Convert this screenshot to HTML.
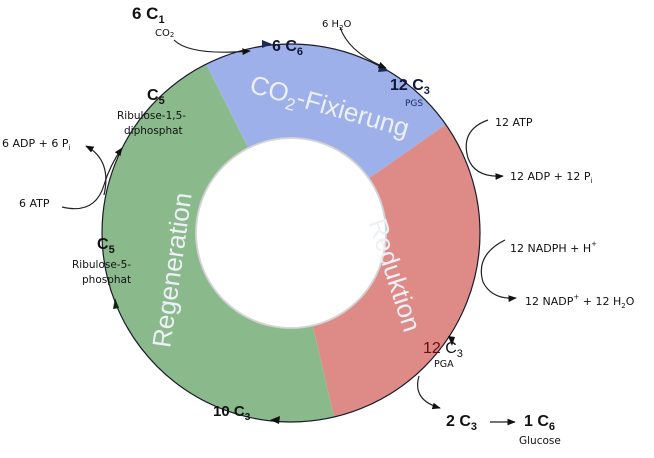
<!DOCTYPE html>
<html><head><meta charset="utf-8"><style>
html,body{margin:0;padding:0;background:#fff;}
svg{display:block;font-family:"Liberation Sans","DejaVu Sans",sans-serif;}
.s{font-family:"DejaVu Sans","Liberation Sans",sans-serif;}
</style></head><body>
<svg width="654" height="458" viewBox="0 0 654 458" xmlns="http://www.w3.org/2000/svg">
<defs>
<marker id="ah" viewBox="0 0 10 10" refX="9" refY="5" markerWidth="7" markerHeight="7" orient="auto"><path d="M0,1 L10,5 L0,9 z" fill="#111"/></marker>
<radialGradient id="ig" cx="0.5" cy="0.5" r="0.5"><stop offset="0.93" stop-color="#fff"/><stop offset="1" stop-color="#ccc"/></radialGradient>
</defs>
<path d="M206.1,64.2 A189,189 0 0 1 445.8,124.5 L368.8,178.5 A95,95 0 0 0 248.3,148.2 Z" fill="#9db0e9"/>
<path d="M445.8,124.5 A189,189 0 0 1 334.1,417.1 L312.7,325.5 A95,95 0 0 0 368.8,178.5 Z" fill="#de8a87"/>
<path d="M334.1,417.1 A189,189 0 0 1 206.1,64.2 L248.3,148.2 A95,95 0 0 0 312.7,325.5 Z" fill="#8aba8c"/>
<circle cx="291" cy="233" r="96" fill="url(#ig)"/>
<circle cx="291" cy="233" r="94" fill="#fff"/>
<circle cx="291" cy="233" r="189" fill="none" stroke="#1a1a2a" stroke-width="1.2"/>
<path d="M262,40 L272,44 L262,48 z" fill="#1a2a5a"/>
<path d="M380,64 L389,71 L378,72 z" fill="#1a2a5a"/>
<path d="M455,337 L452,346 L448,336 z" fill="#111"/>
<path d="M280,416 L270,420 L279,424 z" fill="#111"/>
<path d="M113,309 L115,298 L119,308 z" fill="#0a2a0a"/>
<g fill="#eef0f8" font-size="26">
<text x="330" y="115" text-anchor="middle" transform="rotate(16 330 105)">CO<tspan font-size="17" dy="6">2</tspan><tspan dy="-6">-Fixierung</tspan></text>
<text x="395" y="284" text-anchor="middle" transform="rotate(72 395 275)">Reduktion</text>
<text x="172" y="279" text-anchor="middle" transform="rotate(-82 172 270)">Regeneration</text>
</g>
<g fill="none" stroke="#222" stroke-width="1.2" marker-end="url(#ah)">
<path d="M174,40 Q190,56 250,51"/>
<path d="M340,27 Q348,52 386,68"/>
<path d="M488,120 Q460,130 468,158 Q475,178 503,176"/>
<path d="M505,240 Q475,255 483,282 Q492,300 516,298"/>
<path d="M419,376 Q412,400 440,408"/>
<path d="M490,422 L515,422"/>
<path d="M62,207 Q95,215 104,185 Q110,165 122,148"/>
<path d="M104,195 Q112,160 86,146"/>
</g>
<g fill="#111">
<text x="132" y="19" font-size="17" font-weight="bold">6 C<tspan font-size="11" dy="4">1</tspan></text>
<text class="s" x="155" y="36" font-size="10">CO<tspan font-size="7" dy="1">2</tspan></text>
<text x="272" y="51" font-size="16" font-weight="bold" fill="#10183a">6 C<tspan font-size="11" dy="4">6</tspan></text>
<text class="s" x="322" y="27" font-size="10">6 H<tspan font-size="7" dy="3">2</tspan><tspan dy="-3">O</tspan></text>
<text x="390" y="90" font-size="16" font-weight="bold" fill="#10183a">12 C<tspan font-size="11" dy="4">3</tspan></text>
<text class="s" x="405" y="106" font-size="9" fill="#1a2a6a">PGS</text>
<text class="s" x="495" y="126" font-size="11">12 ATP</text>
<text class="s" x="510" y="180" font-size="11">12 ADP + 12 P<tspan font-size="7" dy="3">i</tspan></text>
<text class="s" x="510" y="252" font-size="11">12 NADPH + H<tspan font-size="7" dy="-6">+</tspan></text>
<text class="s" x="525" y="305" font-size="11">12 NADP<tspan font-size="7" dy="-6">+</tspan><tspan dy="6"> + 12 H</tspan><tspan font-size="7" dy="3">2</tspan><tspan dy="-3">O</tspan></text>
<text x="423" y="353" font-size="16"><tspan fill="#6a0a0a">12</tspan> C<tspan font-size="11" dy="4">3</tspan></text>
<text class="s" x="434" y="367" font-size="9.5">PGA</text>
<text x="446" y="426" font-size="16" font-weight="bold">2 C<tspan font-size="11" dy="4">3</tspan></text>
<text x="524" y="426" font-size="16" font-weight="bold">1 C<tspan font-size="11" dy="4">6</tspan></text>
<text class="s" x="519" y="444" font-size="10.5">Glucose</text>
<text x="213" y="416" font-size="15" font-weight="bold">10 C<tspan font-size="10" dy="4">3</tspan></text>
<text x="97" y="249" font-size="16" font-weight="bold">C<tspan font-size="11" dy="4">5</tspan></text>
<text class="s" x="72" y="268" font-size="10.5">Ribulose-5-</text>
<text class="s" x="82" y="283" font-size="10.5">phosphat</text>
<text x="147" y="100" font-size="16" font-weight="bold">C<tspan font-size="11" dy="4">5</tspan></text>
<text class="s" x="117" y="119" font-size="10.5">Ribulose-1,5-</text>
<text class="s" x="124" y="134" font-size="10.5">diphosphat</text>
<text class="s" x="2" y="147" font-size="11">6 ADP + 6 P<tspan font-size="7" dy="3">i</tspan></text>
<text class="s" x="19" y="207" font-size="11">6 ATP</text>
</g>
</svg>
</body></html>
